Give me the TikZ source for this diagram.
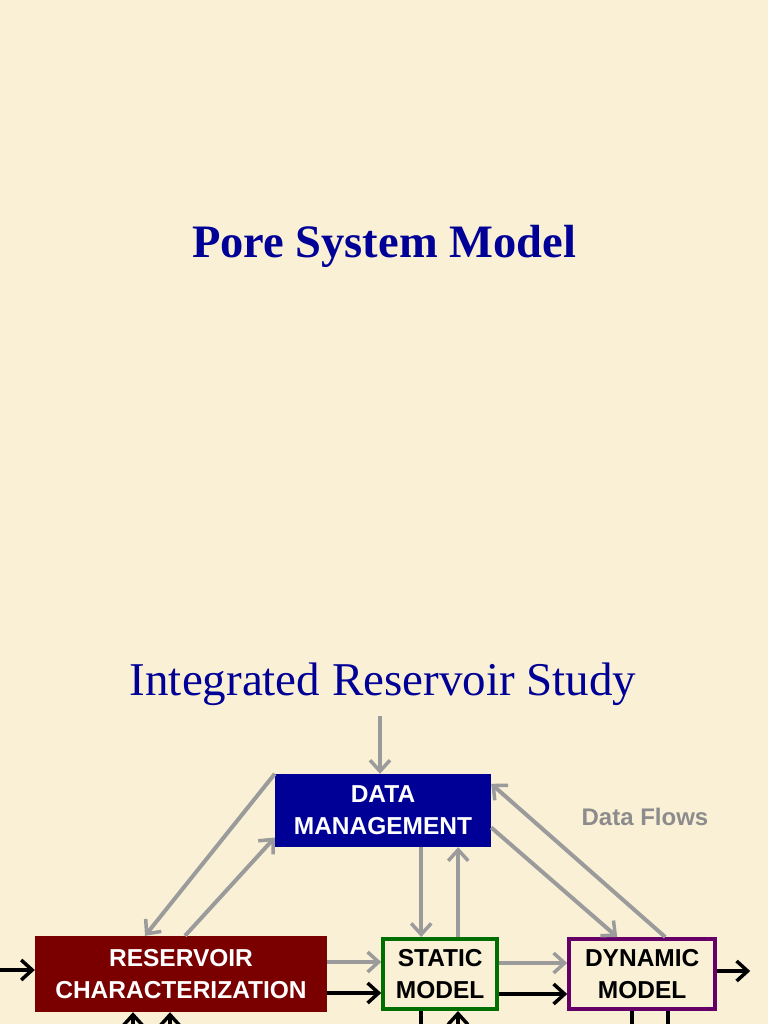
\documentclass[tikz,border=0pt]{standalone}
\usepackage{fontspec}
\setmainfont{Liberation Serif}
\setsansfont{Liberation Sans}
\usepackage{xcolor}
\usetikzlibrary{positioning, arrows.meta}

\definecolor{paper}{RGB}{250,240,214}
\definecolor{titleblue}{RGB}{0,0,150}
\definecolor{dmblue}{RGB}{0,0,150}
\definecolor{rcred}{RGB}{122,0,0}
\definecolor{smgreen}{RGB}{0,110,0}
\definecolor{dynpurple}{RGB}{102,0,102}
\definecolor{flowgray}{RGB}{155,155,155}
\definecolor{labelgray}{RGB}{140,140,140}

\begin{document}
\begin{tikzpicture}[x=1pt, y=-1pt,
    box/.style={inner sep=0pt, align=center, font=\sffamily\bfseries\fontsize{24.5}{32}\selectfont},
    flow/.style={draw=flowgray, line width=4pt, -{Straight Barb[length=11pt, width=20pt, line width=3.5pt]}},
    work/.style={draw=black, line width=4pt, -{Straight Barb[length=11pt, width=20pt, line width=3.5pt]}},
    wire/.style={draw=black, line width=4pt}]
    \fill[paper] (0,0) rectangle (768,1024);
    \useasboundingbox (0,0) rectangle (768,1024);
    % titles
    \node[anchor=base, text=titleblue, font=\bfseries\fontsize{46.5}{50}\selectfont] (title) at (384,258) {Pore System Model};
    \node[anchor=base, text=titleblue, font=\fontsize{47}{52}\selectfont] (study) at (383,695) {Integrated Reservoir Study};
    % boxes
    \node[box, fill=dmblue, text=white, minimum width=216pt, minimum height=73pt] (dm) at (383,810.5) {DATA\\MANAGEMENT};
    \node[box, fill=rcred, text=white, minimum width=292pt, minimum height=76pt] (res) at (181,974) {RESERVOIR\\CHARACTERIZATION};
    \node[box, draw=smgreen, line width=4pt, fill=paper, minimum width=114pt, minimum height=70pt, right=54pt of res] (sm) {STATIC\\MODEL};
    \node[box, draw=dynpurple, line width=4pt, fill=paper, minimum width=146pt, minimum height=70pt, right=68pt of sm] (dyn) {DYNAMIC\\MODEL};
    \node[text=labelgray, font=\sffamily\bfseries\fontsize{24}{28}\selectfont] (flows) at (645,817) {Data Flows};
    % data flows
    \coordinate (feed) at (380,716);
    \draw[flow] (feed) -- (feed |- dm.north);
    \draw[flow] (dm.north west) -- ([xshift=-36pt]res.north);
    \draw[flow] ([xshift=4pt]res.north) -- ([yshift=-27pt]dm.west);
    \draw[flow] ([xshift=-19pt]sm.north |- dm.south) -- ([xshift=-19pt]sm.north);
    \draw[flow] ([xshift=18pt]sm.north) -- ([xshift=18pt]sm.north |- dm.south);
    \draw[flow] ([yshift=-17pt]dm.east) -- ([xshift=-25pt]dyn.north);
    \draw[flow] ([xshift=23pt]dyn.north) -- ([yshift=-10pt]dm.north east);
    \draw[flow] ([yshift=12pt]res.east) -- ([yshift=12pt]res.east -| sm.west);
    \draw[flow] ([yshift=11pt]sm.east) -- ([yshift=11pt]sm.east -| dyn.west);
    % work flow
    \coordinate (start) at (-2,970);
    \draw[work] (start) -- (start -| res.west);
    \draw[work] ([yshift=-19pt]res.east) -- ([yshift=-19pt]res.east -| sm.west);
    \draw[work] ([yshift=-20pt]sm.east) -- ([yshift=-20pt]sm.east -| dyn.west);
    \draw[work] ([yshift=3pt]dyn.east) -- ++(33,0);
    % links below the page edge
    \coordinate (rin1) at (133,1032);
    \coordinate (rin2) at (170,1032);
    \coordinate (sout) at (421,1032);
    \coordinate (sin) at (458,1032);
    \coordinate (dout1) at (632,1032);
    \coordinate (dout2) at (668,1032);
    \draw[work] (rin1) -- (rin1 |- res.south);
    \draw[work] (rin2) -- (rin2 |- res.south);
    \draw[wire] (sout |- sm.south) -- (sout);
    \draw[work] (sin) -- (sin |- sm.south);
    \draw[wire] (dout1 |- dyn.south) -- (dout1);
    \draw[wire] (dout2 |- dyn.south) -- (dout2);
\end{tikzpicture}
\end{document}
